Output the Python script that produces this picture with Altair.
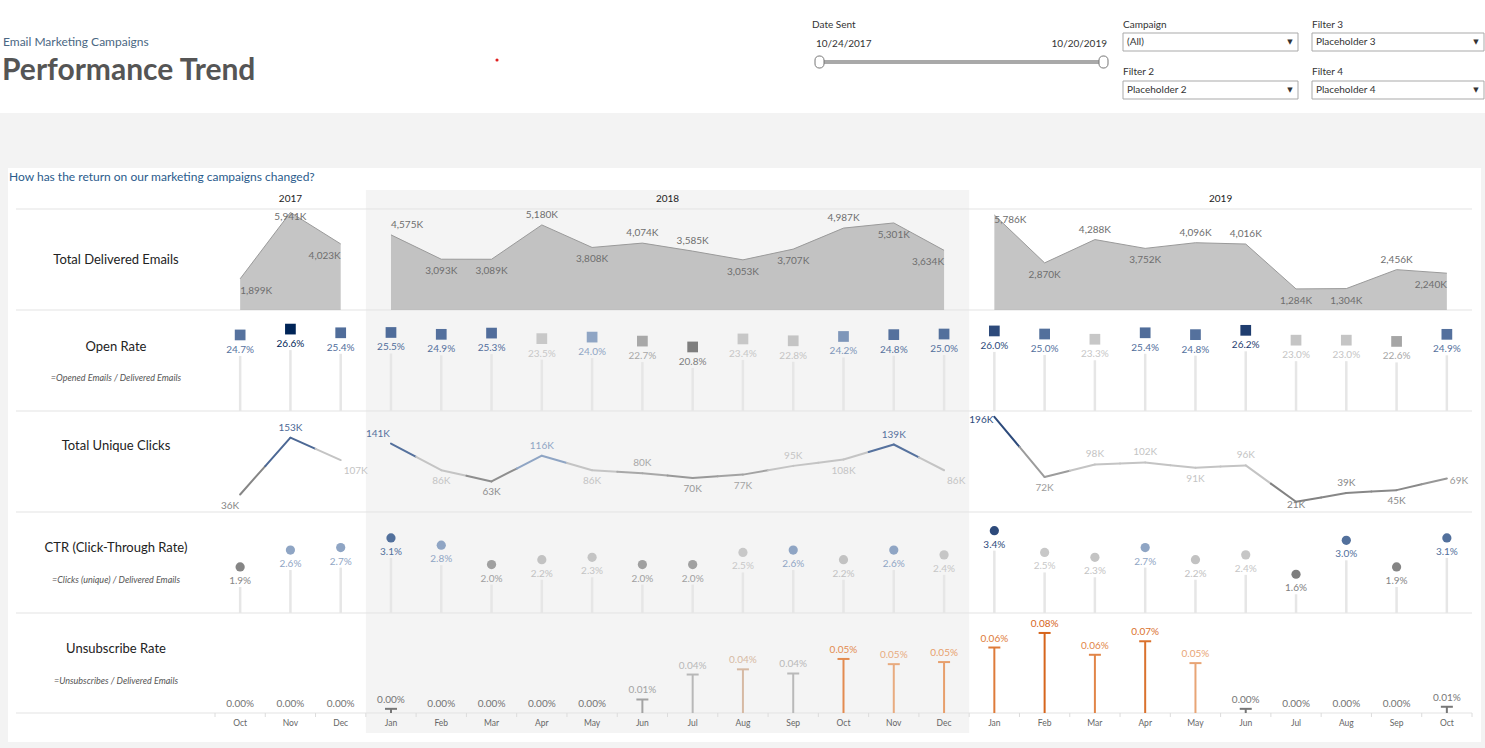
import altair as alt
import pandas as pd

# ---------------------------------------------------------------- data
months = ["Oct", "Nov", "Dec",
          "Jan", "Feb", "Mar", "Apr", "May", "Jun", "Jul", "Aug", "Sep", "Oct", "Nov", "Dec",
          "Jan", "Feb", "Mar", "Apr", "May", "Jun", "Jul", "Aug", "Sep", "Oct"]
years = [2017] * 3 + [2018] * 12 + [2019] * 10

delivered_k = [1899, 5941, 4023,
               4575, 3093, 3089, 5180, 3808, 4074, 3585, 3053, 3707, 4987, 5301, 3634,
               5786, 2870, 4288, 3752, 4096, 4016, 1284, 1304, 2456, 2240]
open_rate_pct = [24.7, 26.6, 25.4,
                 25.5, 24.9, 25.3, 23.5, 24.0, 22.7, 20.8, 23.4, 22.8, 24.2, 24.8, 25.0,
                 26.0, 25.0, 23.3, 25.4, 24.8, 26.2, 23.0, 23.0, 22.6, 24.9]
unique_clicks_k = [36, 153, 107,
                   141, 86, 63, 116, 86, 80, 70, 77, 95, 108, 139, 86,
                   196, 72, 98, 102, 91, 96, 21, 39, 45, 69]
ctr_pct = [1.9, 2.6, 2.7,
           3.1, 2.8, 2.0, 2.2, 2.3, 2.0, 2.0, 2.5, 2.6, 2.2, 2.6, 2.4,
           3.4, 2.5, 2.3, 2.7, 2.2, 2.4, 1.6, 3.0, 1.9, 3.1]
unsubscribe_pct = [0.0, 0.0, 0.0,
                   0.004, 0.0, 0.0, 0.0, 0.0, 0.013, 0.037, 0.042, 0.038, 0.052, 0.047, 0.049,
                   0.063, 0.077, 0.056, 0.069, 0.048, 0.004, 0.0, 0.0, 0.0, 0.006]

# where each value label sits relative to its point
delivered_label_side = ["below", "top", "below",
                        "above", "below", "below", "above", "below", "above", "above",
                        "below", "below", "above", "below", "below",
                        "top", "below", "above", "below", "above", "above", "below",
                        "below", "above", "below"]
clicks_label_side = ["below", "above", "below",
                     "above", "below", "below", "above", "below", "above", "below",
                     "below", "above", "below", "above", "below",
                     "top", "below", "above", "above", "below", "above", "top",
                     "above", "below", "top"]

# ---------------------------------------------------------------- layout
FONT = "Lato"
PLOT_L, PLOT_R = 215, 1472
ROWS = {  # (top, bottom) pixel band of every measure row
    "delivered": (209, 310),
    "open": (310, 411),
    "clicks": (411, 512),
    "ctr": (512, 613),
    "unsub": (613, 713),
}
Y_MAX = {"delivered": 6150, "open": 32.8, "clicks": 208, "ctr": 4.17, "unsub": 0.0962}

df = pd.DataFrame({
    "i": range(len(months)), "month": months, "year": years,
    "delivered": delivered_k, "open": open_rate_pct, "clicks": unique_clicks_k,
    "ctr": ctr_pct, "unsub": unsubscribe_pct,
    "d_side": delivered_label_side, "c_side": clicks_label_side,
})
df["pos"] = "mid"
gi = df.groupby("year")["i"]
df.loc[df["i"] == gi.transform("min"), "pos"] = "first"
df.loc[df["i"] == gi.transform("max"), "pos"] = "last"

XS = alt.Scale(domain=[-0.5, len(months) - 0.5], range=[PLOT_L, PLOT_R], nice=False, zero=False)


def X(field="i"):
    return alt.X(f"{field}:Q", scale=XS, axis=None)


def Y(field, row, **kw):
    top, bottom = ROWS[row]
    return alt.Y(f"{field}:Q", axis=None,
                 scale=alt.Scale(domain=[0, Y_MAX[row]], range=[bottom, top], nice=False, zero=True),
                 **kw)


OPEN_COLORS = alt.Scale(
    domain=[20.8, 22.7, 22.8, 23.5, 24.0, 24.7, 25.5, 26.0],
    range=["#7e7e7e", "#a8a8a8", "#c4c4c4", "#c8c8c8", "#8fa5c4", "#56729e", "#4f6c9a", "#2d4a7b"])
CLICK_COLORS = alt.Scale(
    domain=[21, 63, 80, 86, 108, 116, 139, 196],
    range=["#828282", "#8e8e8e", "#a8a8a8", "#c4c4c4", "#c4c4c4", "#8fa5c4", "#56729e", "#2d4a7b"])
CTR_COLORS = alt.Scale(
    domain=[1.6, 1.9, 2.0, 2.2, 2.5, 2.6, 2.8, 3.0, 3.1, 3.4],
    range=["#7e7e7e", "#858585", "#a0a0a0", "#c2c2c2", "#c8c8c8", "#8fa5c4", "#8fa5c4",
           "#52709c", "#52709c", "#2d4a7b"])
UNSUB_COLORS = alt.Scale(
    domain=[0, 0.006, 0.013, 0.038, 0.045, 0.052, 0.077],
    range=["#737373", "#777777", "#a3a3a3", "#b9b9b9", "#eab893", "#e38b50", "#d6651c"])

ONE = pd.DataFrame({"k": [0]})


def txt(s, x, y, size=10, color="#333333", align="left", weight="normal", style="normal", font=FONT):
    return alt.Chart(ONE).mark_text(
        text=s, align=align, baseline="middle", fontSize=size, color=color,
        fontWeight=weight, fontStyle=style, font=font,
    ).encode(x=alt.value(x), y=alt.value(y))


def box(x0, y0, x1, y1, fill, stroke=None, radius=0):
    kw = dict(fill=fill, cornerRadius=radius)
    if stroke:
        kw.update(stroke=stroke, strokeWidth=1)
    return alt.Chart(ONE).mark_rect(**kw).encode(
        x=alt.value(x0), x2=alt.value(x1), y=alt.value(y0), y2=alt.value(y1))


def hline(x0, x1, y, color, width=1):
    return alt.Chart(ONE).mark_rule(color=color, strokeWidth=width).encode(
        x=alt.value(x0), x2=alt.value(x1), y=alt.value(y))


layers = []

# ---------------------------------------------------------------- backgrounds
layers.append(box(0, 0, 1485, 113, "#ffffff"))
layers.append(box(8, 168, 1481, 742, "#ffffff"))

yr = df.groupby("year")["i"].agg(["min", "max"]).reset_index()
yr["x0"] = yr["min"] - 0.5
yr["x1"] = yr["max"] + 0.5
yr["xc"] = (yr["min"] + yr["max"]) / 2
layers.append(alt.Chart(yr[yr.year == 2018]).mark_rect(color="#f4f4f4").encode(
    x=X("x0"), x2=alt.X2("x1:Q"), y=alt.value(190), y2=alt.value(733)))

for yline in [209, 310, 411, 512, 613, 713]:
    layers.append(hline(16, PLOT_R, yline, "#e3e3e3", 1))

bounds = pd.DataFrame({"b": [k - 0.5 for k in range(len(months) + 1)]})
layers.append(alt.Chart(bounds).mark_rule(color="#dcdcdc", strokeWidth=1).encode(
    x=X("b"), y=alt.value(713), y2=alt.value(717)))

# ---------------------------------------------------------------- Total Delivered Emails (area per year)
layers.append(alt.Chart(df).mark_area(
    color="#adadad", line={"color": "#9a9a9a", "strokeWidth": 1}, interpolate="linear"
).encode(x=X(), y=Y("delivered", "delivered", stack=None), detail="year:N"))

DY_D = {"above": -10, "below": 12, "top": 5}
ALIGN_D = {"first": ("left", 0), "mid": ("center", 0), "last": ("right", 0)}
for side, dy in DY_D.items():
    for pos, (al, dx) in ALIGN_D.items():
        sub = df[(df.d_side == side) & (df.pos == pos)]
        if sub.empty:
            continue
        layers.append(alt.Chart(sub).transform_calculate(
            lbl="format(datum.delivered, ',') + 'K'"
        ).mark_text(dy=dy, dx=dx, align=al, fontSize=10, font=FONT, color="#6e6e6e").encode(
            x=X(), y=Y("delivered", "delivered"), text="lbl:N"))

# ---------------------------------------------------------------- Open Rate (square lollipops)
layers.append(alt.Chart(df).mark_rule(color="#e6e6e6", strokeWidth=2.5, yOffset=21).encode(
    x=X(), y=Y("open", "open"), y2=alt.value(ROWS["open"][1])))
layers.append(alt.Chart(df).mark_square(size=115, opacity=1).encode(
    x=X(), y=Y("open", "open"), color=alt.Color("open:Q", scale=OPEN_COLORS, legend=None)))
layers.append(alt.Chart(df).transform_calculate(
    lbl="format(datum.open, '.1f') + '%'"
).mark_text(dy=15, fontSize=10, font=FONT).encode(
    x=X(), y=Y("open", "open"), text="lbl:N",
    color=alt.Color("open:Q", scale=OPEN_COLORS, legend=None)))

# ---------------------------------------------------------------- Total Unique Clicks (colour-graded line)
seg_rows = []
for a, b in zip(df.itertuples(), df.iloc[1:].itertuples()):
    if a.year != b.year:
        continue
    xm, ym = (a.i + b.i) / 2, (a.clicks + b.clicks) / 2
    seg_rows.append(dict(x=a.i, x2=xm, y=a.clicks, y2=ym, c=a.clicks))
    seg_rows.append(dict(x=xm, x2=b.i, y=ym, y2=b.clicks, c=b.clicks))
segs = pd.DataFrame(seg_rows)
layers.append(alt.Chart(segs).mark_rule(strokeWidth=2, strokeCap="round").encode(
    x=X("x"), x2=alt.X2("x2:Q"), y=Y("y", "clicks"), y2=alt.Y2("y2:Q"),
    color=alt.Color("c:Q", scale=CLICK_COLORS, legend=None)))

DY_C = {"above": -10, "below": 11, "top": 3}
ALIGN_C = {"first": ("right", -1), "mid": ("center", 0), "last": ("left", 3)}
for side, dy in DY_C.items():
    for pos, (al, dx) in ALIGN_C.items():
        sub = df[(df.c_side == side) & (df.pos == pos)]
        if sub.empty:
            continue
        layers.append(alt.Chart(sub).transform_calculate(
            lbl="datum.clicks + 'K'"
        ).mark_text(dy=dy, dx=dx, align=al, fontSize=10, font=FONT).encode(
            x=X(), y=Y("clicks", "clicks"), text="lbl:N",
            color=alt.Color("clicks:Q", scale=CLICK_COLORS, legend=None)))

# ---------------------------------------------------------------- CTR (circle lollipops)
layers.append(alt.Chart(df).mark_rule(color="#e6e6e6", strokeWidth=2.5, yOffset=20).encode(
    x=X(), y=Y("ctr", "ctr"), y2=alt.value(ROWS["ctr"][1])))
layers.append(alt.Chart(df).mark_circle(size=85, opacity=1).encode(
    x=X(), y=Y("ctr", "ctr"), color=alt.Color("ctr:Q", scale=CTR_COLORS, legend=None)))
layers.append(alt.Chart(df).transform_calculate(
    lbl="format(datum.ctr, '.1f') + '%'"
).mark_text(dy=14, fontSize=10, font=FONT).encode(
    x=X(), y=Y("ctr", "ctr"), text="lbl:N",
    color=alt.Color("ctr:Q", scale=CTR_COLORS, legend=None)))

# ---------------------------------------------------------------- Unsubscribe Rate (capped stems)
nz = df[df.unsub > 0]
layers.append(alt.Chart(nz).mark_rule(strokeWidth=2).encode(
    x=X(), y=Y("unsub", "unsub"), y2=alt.value(ROWS["unsub"][1]),
    color=alt.Color("unsub:Q", scale=UNSUB_COLORS, legend=None)))
layers.append(alt.Chart(nz).mark_tick(orient="horizontal", size=12, thickness=2, opacity=1).encode(
    x=X(), y=Y("unsub", "unsub"),
    color=alt.Color("unsub:Q", scale=UNSUB_COLORS, legend=None)))
layers.append(alt.Chart(df).transform_calculate(
    lbl="format(datum.unsub, '.2f') + '%'"
).mark_text(dy=-9, fontSize=10, font=FONT).encode(
    x=X(), y=Y("unsub", "unsub"), text="lbl:N",
    color=alt.Color("unsub:Q", scale=UNSUB_COLORS, legend=None)))

# ---------------------------------------------------------------- headers, row titles, month axis
layers.append(alt.Chart(yr).mark_text(fontSize=10, font=FONT, color="#222222").encode(
    x=X("xc"), y=alt.value(199), text="year:N"))
layers.append(alt.Chart(df).mark_text(fontSize=8.5, font=FONT, color="#666666").encode(
    x=X(), y=alt.value(723), text="month:N"))

row_titles = [
    ("Total Delivered Emails", 260, None, None),
    ("Open Rate", 347, "=Opened Emails / Delivered Emails", 378),
    ("Total Unique Clicks", 446, None, None),
    ("CTR (Click-Through Rate)", 548, "=Clicks (unique) / Delivered Emails", 580),
    ("Unsubscribe Rate", 649, "=Unsubscribes / Delivered Emails", 681),
]
for title, ty, sub, sy in row_titles:
    layers.append(txt(title, 116, ty, size=13, color="#222222", align="center"))
    if sub:
        layers.append(txt(sub, 116, sy, size=9, color="#555555", align="center", style="italic"))

layers.append(txt("How has the return on our marketing campaigns changed?", 9, 177,
                  size=12, color="#2a5b8c"))

# ---------------------------------------------------------------- dashboard title and filters
layers.append(txt("Email Marketing Campaigns", 3, 42, size=12, color="#4a6783"))
layers.append(txt("Performance Trend", 2, 71, size=30, color="#555555", weight="bold"))
layers.append(alt.Chart(ONE).mark_circle(size=10, color="#e02020", opacity=1).encode(
    x=alt.value(497), y=alt.value(60)))

layers.append(txt("Date Sent", 812, 25, size=10))
layers.append(txt("10/24/2017", 816, 44, size=10))
layers.append(txt("10/20/2019", 1107, 44, size=10, align="right"))
layers.append(hline(820, 1103, 62, "#a9a9a9", 4))
layers.append(box(815, 56, 824, 68, "#ffffff", "#777777", radius=4))
layers.append(box(1099, 56, 1108, 68, "#ffffff", "#777777", radius=4))

for label, x0, x1, y_lab, y0, y1, value in [
    ("Campaign", 1123, 1298, 25, 33, 51, "(All)"),
    ("Filter 3", 1312, 1484, 25, 33, 51, "Placeholder 3"),
    ("Filter 2", 1123, 1298, 72, 81, 99, "Placeholder 2"),
    ("Filter 4", 1312, 1484, 72, 81, 99, "Placeholder 4"),
]:
    layers.append(txt(label, x0, y_lab, size=10))
    layers.append(box(x0, y0, x1, y1, "#ffffff", "#a9a9a9"))
    layers.append(txt(value, x0 + 4, (y0 + y1) / 2, size=10))
    layers.append(txt("\u25bc", x1 - 8, (y0 + y1) / 2, size=7, color="#333333",
                      align="center", font="DejaVu Sans"))

chart = alt.layer(*layers).resolve_scale(
    y="independent", color="independent"
).properties(
    width=1485, height=748, padding=0,
    autosize=alt.AutoSizeParams(type="none"),
    background="#f3f3f3",
).configure_view(stroke=None)

chart.save("out.html", embed_options={"renderer": "svg", "actions": False})
